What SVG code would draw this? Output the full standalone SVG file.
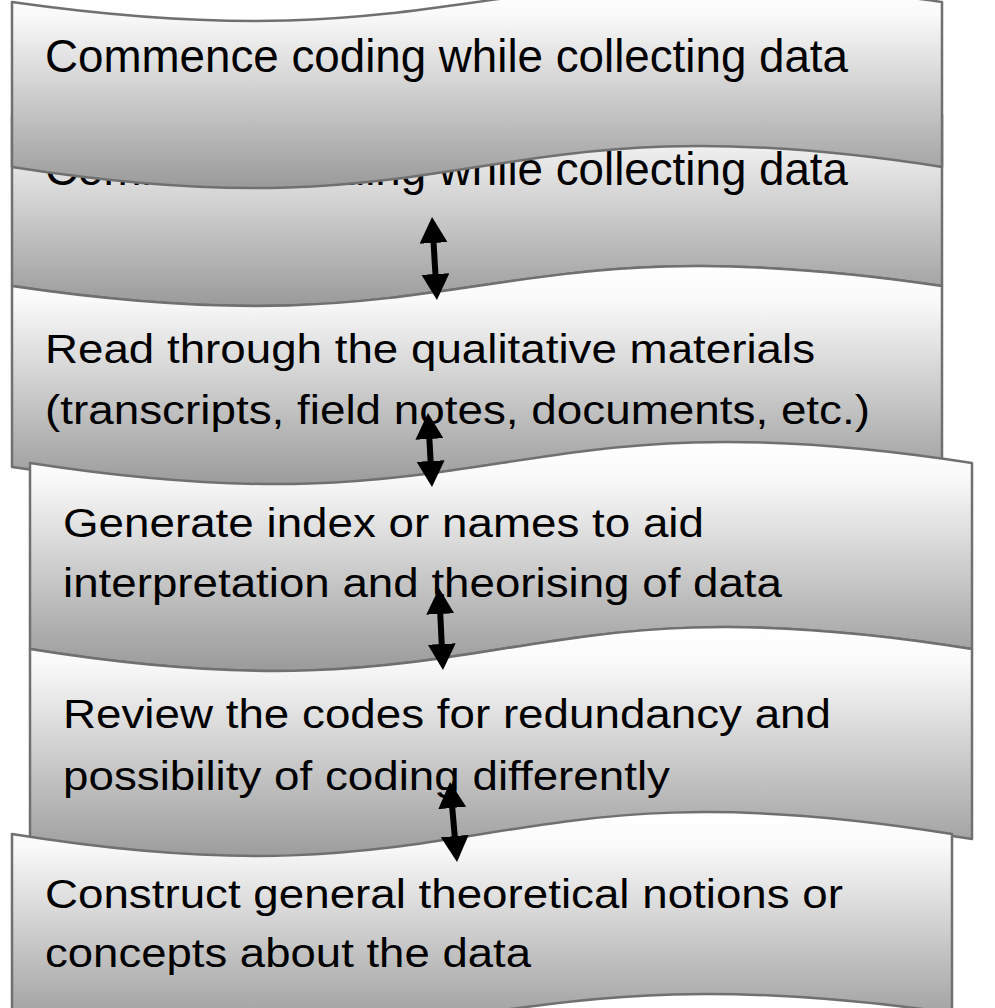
<svg xmlns="http://www.w3.org/2000/svg" width="995" height="1008" viewBox="0 0 995 1008">
<style>
.shape{fill:url(#grad);stroke:#707070;stroke-width:2.5;stroke-linejoin:round}
.lbl{font-family:"Liberation Sans",Arial,sans-serif;fill:#000}
.big{font-size:46px}
.mid{font-size:40px}
.arrow{stroke:#000;stroke-width:6;fill:none;marker-start:url(#ah);marker-end:url(#ah)}
</style>
<defs>
<linearGradient id="grad" x1="0" y1="0" x2="0" y2="1">
<stop offset="0" stop-color="#ffffff"/>
<stop offset="0.15" stop-color="#fafafa"/>
<stop offset="1" stop-color="#9a9a9a"/>
</linearGradient>
<marker id="ah" viewBox="0 0 26 28" refX="20" refY="14" markerWidth="26" markerHeight="28" markerUnits="userSpaceOnUse" orient="auto-start-reverse">
<path d="M0,0 L26,14 L0,28 Z" fill="#000"/>
</marker>
</defs>
<rect width="995" height="1008" fill="#fff"/>

<g id="node-commence-back">
<path class="shape" d="M12,115 C477,184 477,46 942,115 L942,286 C477,217 477,355 12,286 Z"/>
<text class="lbl big" x="45" y="185" textLength="803" lengthAdjust="spacingAndGlyphs">Commence coding while collecting data</text>
</g>

<g id="node-commence">
<path class="shape" d="M12,2 C477,68 477,-64 942,2 L942,167 C477,94 477,240 12,167 Z"/>
<text class="lbl big" x="45" y="72" textLength="803" lengthAdjust="spacingAndGlyphs">Commence coding while collecting data</text>
</g>

<g id="node-read">
<path class="shape" d="M12,286 C477,355 477,217 942,286 L942,467 C477,398 477,536 12,467 Z"/>
<text class="lbl mid" x="45" y="363" textLength="770" lengthAdjust="spacingAndGlyphs">Read through the qualitative materials</text>
<text class="lbl mid" x="45" y="424" textLength="825" lengthAdjust="spacingAndGlyphs">(transcripts, field notes, documents, etc.)</text>
</g>

<g id="node-generate">
<path class="shape" d="M30,463 C501,536 501,390 972,463 L972,649 C501,573 501,725 30,649 Z"/>
<text class="lbl mid" x="63" y="537" textLength="641" lengthAdjust="spacingAndGlyphs">Generate index or names to aid</text>
<text class="lbl mid" x="63" y="597" textLength="719" lengthAdjust="spacingAndGlyphs">interpretation and theorising of data</text>
</g>

<g id="node-review">
<path class="shape" d="M30,649 C501,725 501,573 972,649 L972,839 C501,763 501,915 30,839 Z"/>
<text class="lbl mid" x="63" y="728" textLength="768" lengthAdjust="spacingAndGlyphs">Review the codes for redundancy and</text>
<text class="lbl mid" x="63" y="790" textLength="607" lengthAdjust="spacingAndGlyphs">possibility of coding differently</text>
</g>

<g id="node-construct">
<path class="shape" d="M12,834 C482,910 482,758 952,834 L952,1013 C482,947 482,1079 12,1013 Z"/>
<text class="lbl mid" x="45" y="908" textLength="798" lengthAdjust="spacingAndGlyphs">Construct general theoretical notions or</text>
<text class="lbl mid" x="45" y="967" textLength="486" lengthAdjust="spacingAndGlyphs">concepts about the data</text>
</g>

<g id="connectors">
<line class="arrow" x1="432.4" y1="223" x2="436.6" y2="294"/>
<line class="arrow" x1="428.3" y1="419" x2="431.7" y2="481"/>
<line class="arrow" x1="439.3" y1="594" x2="442.7" y2="664"/>
<line class="arrow" x1="450.5" y1="788" x2="456.5" y2="856"/>
</g>
</svg>
